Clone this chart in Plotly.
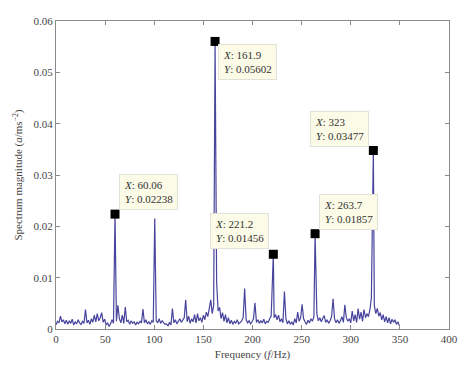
import numpy as np
import plotly.graph_objects as go

freq_step = 1.5
magnitude = [
    0.0008, 0.0015, 0.0012, 0.0025, 0.0014, 0.0018, 0.0010, 0.0017, 0.0009, 0.0016,
    0.0011, 0.0019, 0.0008, 0.0014, 0.0010, 0.0018, 0.0012, 0.0009, 0.0015, 0.0011,
    0.0038, 0.0012, 0.0017, 0.0009, 0.0020, 0.0013, 0.0027, 0.0014, 0.0030, 0.0016,
    0.0022, 0.0032, 0.0013, 0.0019, 0.0008, 0.0012, 0.0005, 0.0010, 0.0018, 0.0011,
    0.0012, 0.0015, 0.0046, 0.0020, 0.0012, 0.0027, 0.0011, 0.0043, 0.0014, 0.0017,
    0.0009, 0.0016, 0.0011, 0.0014, 0.0008, 0.0013, 0.0010, 0.0015, 0.0012, 0.0039,
    0.0012, 0.0018, 0.0010, 0.0014, 0.0009, 0.0016, 0.0013, 0.0215, 0.0016, 0.0012,
    0.0020, 0.0011, 0.0016, 0.0012, 0.0009, 0.0010, 0.0006, 0.0013, 0.0008, 0.0040,
    0.0012, 0.0018, 0.0010, 0.0015, 0.0020, 0.0013, 0.0018, 0.0022, 0.0057, 0.0014,
    0.0025, 0.0011, 0.0020, 0.0014, 0.0028, 0.0012, 0.0030, 0.0016, 0.0022, 0.0013,
    0.0027, 0.0018, 0.0033, 0.0024, 0.0040, 0.0057, 0.0030, 0.0046, 0.0020, 0.0090,
    0.0035, 0.0042, 0.0020, 0.0032, 0.0015, 0.0028, 0.0012, 0.0022, 0.0010, 0.0017,
    0.0009, 0.0015, 0.0011, 0.0018, 0.0010, 0.0013, 0.0016, 0.0022, 0.0079, 0.0018,
    0.0012, 0.0016, 0.0010, 0.0014, 0.0020, 0.0051, 0.0013, 0.0018, 0.0011, 0.0016,
    0.0012, 0.0019, 0.0010, 0.0015, 0.0013, 0.0020, 0.0025, 0.0015, 0.0022, 0.0028,
    0.0018, 0.0027, 0.0014, 0.0020, 0.0012, 0.0073, 0.0020, 0.0010, 0.0016, 0.0009,
    0.0014, 0.0008, 0.0020, 0.0012, 0.0033, 0.0015, 0.0022, 0.0048, 0.0020, 0.0014,
    0.0009, 0.0017, 0.0012, 0.0020, 0.0015, 0.0024, 0.0015, 0.0030, 0.0016, 0.0022,
    0.0014, 0.0021, 0.0026, 0.0013, 0.0018, 0.0011, 0.0016, 0.0024, 0.0059, 0.0020,
    0.0012, 0.0018, 0.0011, 0.0016, 0.0024, 0.0013, 0.0047, 0.0022, 0.0015, 0.0020,
    0.0012, 0.0035, 0.0016, 0.0028, 0.0013, 0.0040, 0.0019, 0.0033, 0.0015, 0.0038,
    0.0022, 0.0030, 0.0024, 0.0038, 0.0060, 0.0030, 0.0046, 0.0030, 0.0040, 0.0025,
    0.0032, 0.0018, 0.0028, 0.0014, 0.0024, 0.0012, 0.0022, 0.0010, 0.0019, 0.0013,
    0.0018, 0.0009, 0.0014, 0.0006,
]

# Data-tip peaks
peak_freq = [60.06, 161.9, 221.2, 263.7, 323]
peak_mag = [0.02238, 0.05602, 0.01456, 0.01857, 0.03477]
peak_labels_x = ["60.06", "161.9", "221.2", "263.7", "323"]
peak_labels_y = ["0.02238", "0.05602", "0.01456", "0.01857", "0.03477"]
# Data-tip box centres (data coordinates)
box_x = [94.1, 194.9, 186.3, 298.2, 288.5]
box_y = [0.02675, 0.05199, 0.01914, 0.02275, 0.03903]

freq = list(np.arange(len(magnitude)) * freq_step)
mag = list(magnitude)
for pf, pm in zip(peak_freq, peak_mag):
    i = int(np.argmin([abs(f - pf) for f in freq]))
    freq[i] = pf
    mag[i] = pm

FONT = "Liberation Serif, Times New Roman, serif"
LINE = "rgb(72,68,158)"

fig = go.Figure()
fig.add_trace(go.Scatter(x=freq, y=mag, mode="lines",
                         line=dict(color=LINE, width=1.2),
                         hoverinfo="skip", showlegend=False))
fig.add_trace(go.Scatter(x=peak_freq, y=peak_mag, mode="markers",
                         marker=dict(symbol="square", size=9, color="black"),
                         hoverinfo="skip", showlegend=False))

for bx, by, lx, ly in zip(box_x, box_y, peak_labels_x, peak_labels_y):
    fig.add_annotation(x=bx, y=by, xref="x", yref="y", showarrow=False,
                       text=f"<i>X</i>: {lx}<br><i>Y</i>: {ly}",
                       align="left", font=dict(family=FONT, size=11, color="#333"),
                       bgcolor="rgb(252,251,232)", bordercolor="rgb(225,225,215)",
                       borderwidth=1, borderpad=4, width=49)

axis_common = dict(showline=True, linecolor="#8a8a8a", linewidth=1, mirror="ticks",
                   ticks="inside", ticklen=4, tickcolor="#8a8a8a", showgrid=False,
                   zeroline=False, automargin=False,
                   tickfont=dict(family=FONT, size=11, color="#444"))

fig.update_layout(
    width=474, height=376,
    margin=dict(l=48, r=33, t=13, b=55),
    paper_bgcolor="white", plot_bgcolor="white",
    font=dict(family=FONT, size=11, color="#444"),
    xaxis=dict(range=[0, 400], tickvals=[0, 50, 100, 150, 200, 250, 300, 350, 400],
               title=dict(text="Frequency (<i>f</i>/Hz)", standoff=6,
                          font=dict(family=FONT, size=11, color="#444")),
               **axis_common),
    yaxis=dict(range=[0, 0.06], tickvals=[0, 0.01, 0.02, 0.03, 0.04, 0.05, 0.06],
               ticktext=["0", "0.01", "0.02", "0.03", "0.04", "0.05", "0.06"],
               title=dict(text="Spectrum magnitude (<i>a</i>/ms<sup>−2</sup>)", standoff=8,
                          font=dict(family=FONT, size=11, color="#444")),
               **axis_common),
)

fig.write_html("out.html")
